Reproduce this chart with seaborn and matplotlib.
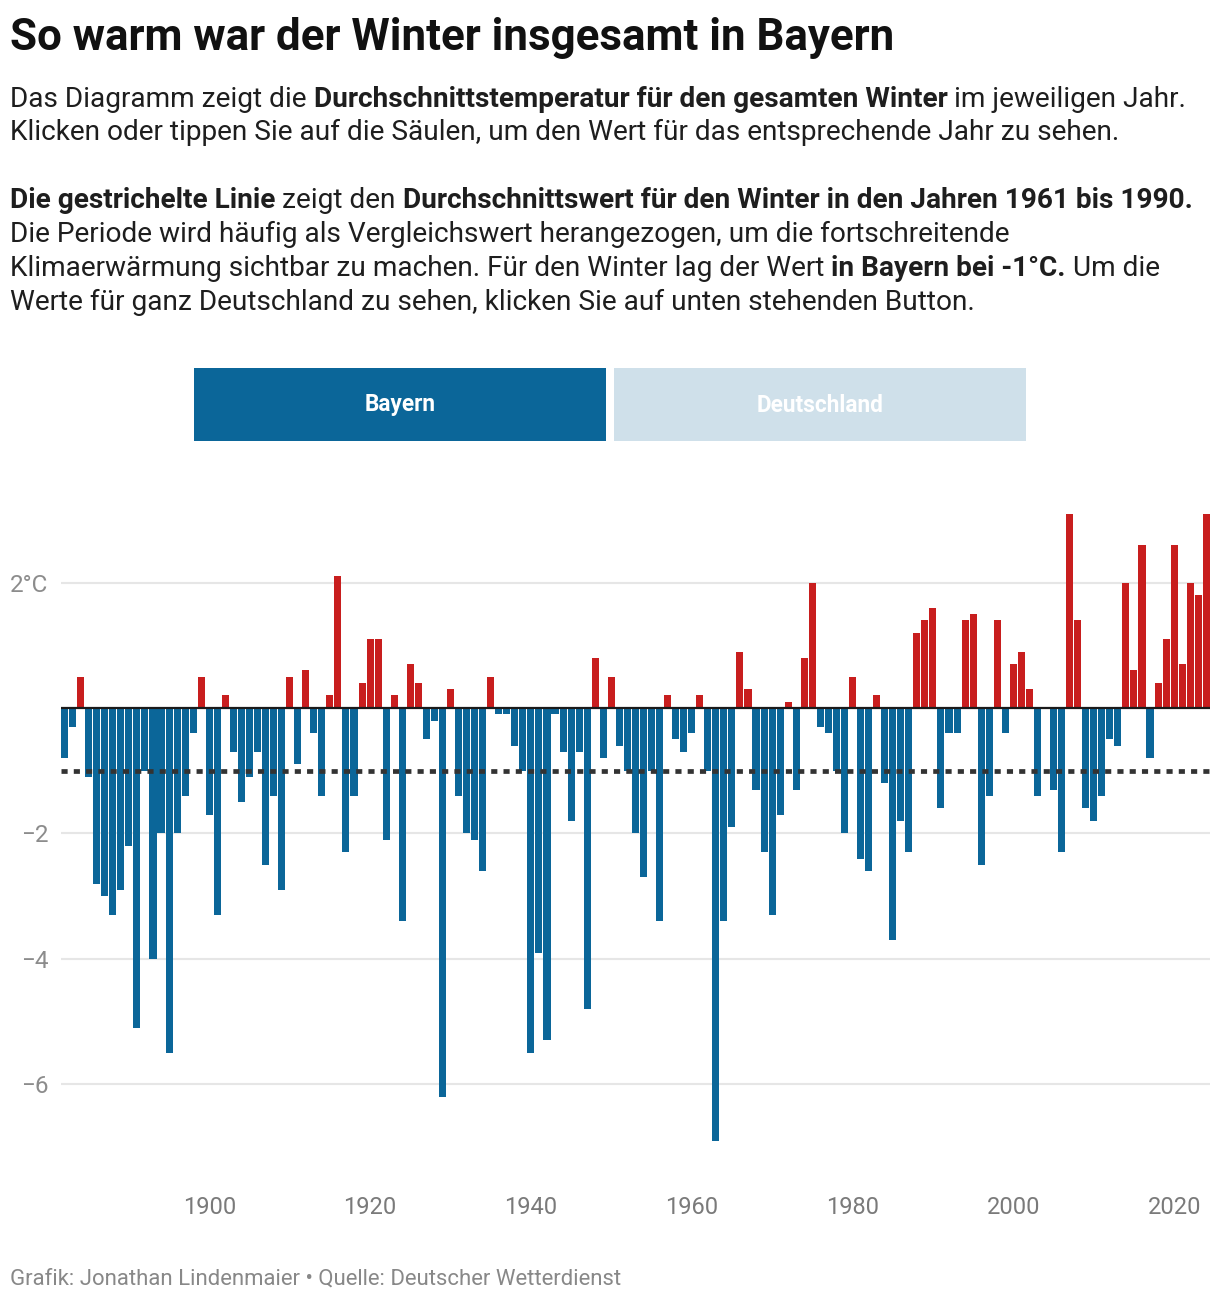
import numpy as np
import pandas as pd
import matplotlib
matplotlib.use("Agg")
import matplotlib.pyplot as plt
import seaborn as sns
from matplotlib.patches import Rectangle

# -----------------------------
# Data: Wintermitteltemperatur Bayern (°C)
# -----------------------------
years = list(range(1882, 2025))
temps = [
    # 1882-1889
    -0.8, -0.3, 0.5, -1.1, -2.8, -3.0, -3.3, -2.9,
    # 1890s
    -2.2, -5.1, -1.0, -4.0, -2.0, -5.5, -2.0, -1.4, -0.4, 0.5,
    # 1900s
    -1.7, -3.3, 0.2, -0.7, -1.5, -1.1, -0.7, -2.5, -1.4, -2.9,
    # 1910s
    0.5, -0.9, 0.6, -0.4, -1.4, 0.2, 2.1, -2.3, -1.4, 0.4,
    # 1920s
    1.1, 1.1, -2.1, 0.2, -3.4, 0.7, 0.4, -0.5, -0.2, -6.2,
    # 1930s
    0.3, -1.4, -2.0, -2.1, -2.6, 0.5, -0.1, -0.1, -0.6, -1.0,
    # 1940s
    -5.5, -3.9, -5.3, -0.1, -0.7, -1.8, -0.7, -4.8, 0.8, -0.8,
    # 1950s
    0.5, -0.6, -1.0, -2.0, -2.7, -1.0, -3.4, 0.2, -0.5, -0.7,
    # 1960s
    -0.4, 0.2, -1.0, -6.9, -3.4, -1.9, 0.9, 0.3, -1.3, -2.3,
    # 1970s
    -3.3, -1.7, 0.1, -1.3, 0.8, 2.0, -0.3, -0.4, -1.0, -2.0,
    # 1980s
    0.5, -2.4, -2.6, 0.2, -1.2, -3.7, -1.8, -2.3, 1.2, 1.4,
    # 1990s
    1.6, -1.6, -0.4, -0.4, 1.4, 1.5, -2.5, -1.4, 1.4, -0.4,
    # 2000s
    0.7, 0.9, 0.3, -1.4, 0.0, -1.3, -2.3, 3.1, 1.4, -1.6,
    # 2010s
    -1.8, -1.4, -0.5, -0.6, 2.0, 0.6, 2.6, -0.8, 0.4, 1.1,
    # 2020s
    2.6, 0.7, 2.0, 1.8, 3.1,
]
ref_mean = -1.0  # Mittel 1961-1990

ytick_vals = [2, -2, -4, -6]
ytick_labels = ["2°C", "\u22122", "\u22124", "\u22126"]
xtick_years = [1900, 1920, 1940, 1960, 1980, 2000, 2020]
buttons = ["Bayern", "Deutschland"]

title = "So warm war der Winter insgesamt in Bayern"
intro_lines = [
    [("Das Diagramm zeigt die ", "normal"),
     ("Durchschnittstemperatur für den gesamten Winter", "bold"),
     (" im jeweiligen Jahr.", "normal")],
    [("Klicken oder tippen Sie auf die Säulen, um den Wert für das entsprechende Jahr zu sehen.", "normal")],
    [("Die gestrichelte Linie", "bold"),
     (" zeigt den ", "normal"),
     ("Durchschnittswert für den Winter in den Jahren 1961 bis 1990.", "bold")],
    [("Die Periode wird häufig als Vergleichswert herangezogen, um die fortschreitende", "normal")],
    [("Klimaerwärmung sichtbar zu machen. Für den Winter lag der Wert ", "normal"),
     ("in Bayern bei -1°C.", "bold"),
     (" Um die", "normal")],
    [("Werte für ganz Deutschland zu sehen, klicken Sie auf unten stehenden Button.", "normal")],
]
intro_baselines = [107, 140.5, 208, 242, 276, 310]
footer = "Grafik: Jonathan Lindenmaier \u2022 Quelle: Deutscher Wetterdienst"

BLUE = "#0b6699"
RED = "#c81e1e"
LIGHT = "#cfe0ea"

df = pd.DataFrame({"Jahr": years, "Temp": temps})
df["Art"] = np.where(df["Temp"] > 0, "warm", "kalt")

# -----------------------------
# Figure setup
# -----------------------------
sns.set_style("white")
plt.rcParams["font.family"] = ["Roboto", "DejaVu Sans"]

W, H = 1220, 1302
fig = plt.figure(figsize=(W / 100, H / 100), dpi=100)
renderer = fig.canvas.get_renderer()


def fx(px):
    return px / W


def fy(py):
    return 1 - py / H


# title
fig.text(fx(10), fy(50), title, fontsize=31.6, fontweight="bold",
         color="#111111", va="baseline", ha="left")


def measure(s, weight, size):
    t = fig.text(0, 0, "|" + s + "|", fontsize=size, fontweight=weight)
    w = t.get_window_extent(renderer).width
    t.remove()
    t = fig.text(0, 0, "||", fontsize=size, fontweight=weight)
    w0 = t.get_window_extent(renderer).width
    t.remove()
    return w - w0


body_size = 20.15
for line, base in zip(intro_lines, intro_baselines):
    x = 10.0
    for seg, weight in line:
        stripped = seg.strip()
        lead = len(seg) - len(seg.lstrip())
        trail = len(seg) - len(seg.rstrip())
        sp = measure(" ", weight, body_size)
        x += lead * sp
        fig.text(fx(x), fy(base), stripped, fontsize=body_size, fontweight=weight,
                 color="#1e1e1e", va="baseline", ha="left")
        x += measure(stripped, weight, body_size) + trail * sp

# buttons
btn_boxes = [(194, 606), (614, 1026)]
btn_colors = [BLUE, LIGHT]
for (x0, x1), label, col in zip(btn_boxes, buttons, btn_colors):
    fig.patches.append(Rectangle((fx(x0), fy(441)), fx(x1 - x0), (441 - 368) / H,
                                 transform=fig.transFigure, facecolor=col,
                                 edgecolor="none"))
    fig.text(fx((x0 + x1) / 2), fy(405), label, fontsize=16.3, fontweight="bold",
             color="white", ha="center", va="center")

# -----------------------------
# Bar chart
# -----------------------------
ax = fig.add_axes([fx(61), fy(1147), (1210 - 61) / W, (1147 - 513.6) / H])
sns.barplot(data=df, x="Jahr", y="Temp", hue="Art",
            palette={"warm": RED, "kalt": BLUE}, native_scale=True,
            width=0.88, dodge=False, errorbar=None, saturation=1,
            legend=False, linewidth=0, ax=ax)

ax.set_xlim(1881.56, 2024.46)
ax.set_ylim(-7.0, 3.1)

ax.set_yticks(ytick_vals)
ax.set_yticklabels(ytick_labels)
ax.set_xticks(xtick_years)
ax.set_xticklabels([str(y) for y in xtick_years])
ax.tick_params(axis="y", length=0, pad=9, labelsize=17.5, labelcolor="#8c8c8c")
ax.tick_params(axis="x", length=0, pad=35, labelsize=17, labelcolor="#7a7a7a")
ax.set_xlabel("")
ax.set_ylabel("")

ax.grid(axis="y", color="#e6e6e6", linewidth=1.5)
ax.grid(axis="x", visible=False)
ax.set_axisbelow(True)
for s in ax.spines.values():
    s.set_visible(False)

ax.axhline(0, color="#1a1a1a", linewidth=1.6, zorder=3)
ax.axhline(ref_mean, color="#333333", linewidth=3.4, linestyle=(0, (1.3, 1.3)),
           zorder=4)

# footer
fig.text(fx(10), fy(1285), footer, fontsize=15.9, color="#888888",
         va="baseline", ha="left")

fig.savefig("out.png", dpi=100)
